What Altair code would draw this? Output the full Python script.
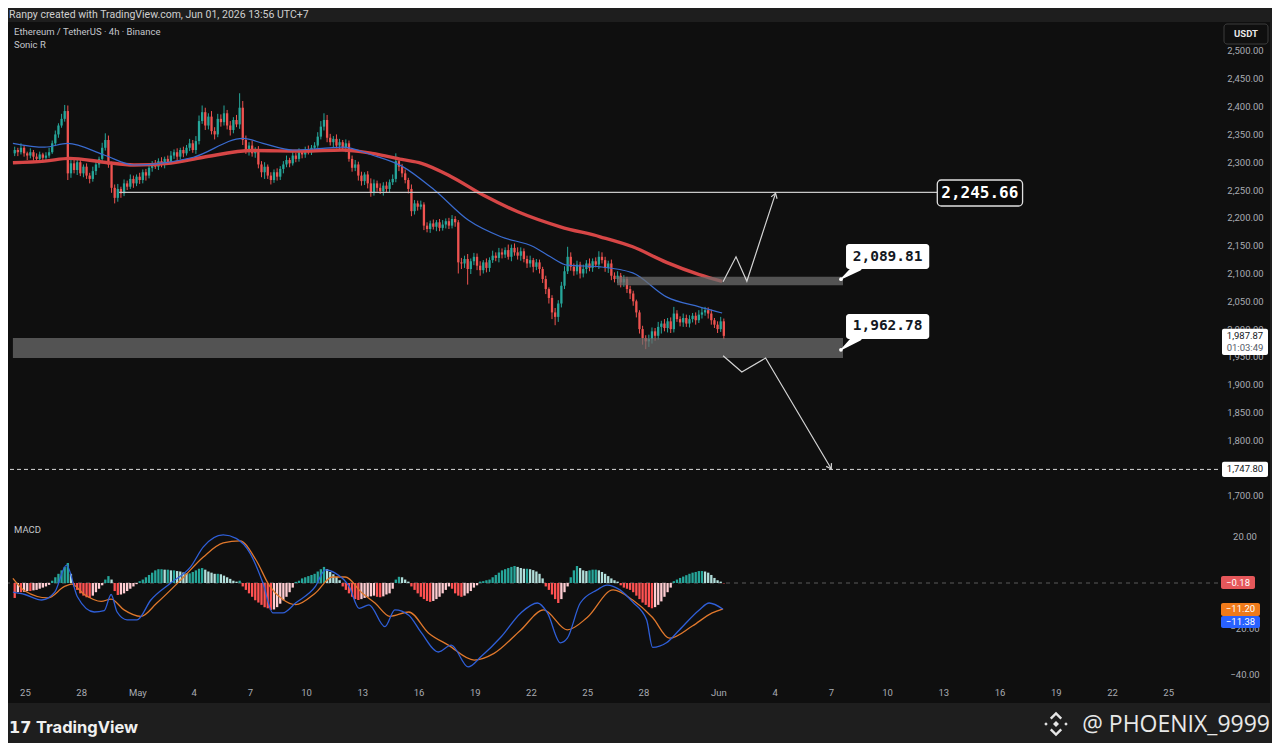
import json
import altair as alt
import pandas as pd

# ---------------- values ----------------
first_open = 2316
closes = [
    2322, 2318, 2326, 2316, 2312, 2318, 2310, 2306, 2314, 2308, 2312, 2318,
    2334, 2350, 2366, 2378, 2392,
    2280, 2298,
    2286, 2300, 2280, 2292, 2276, 2270, 2284, 2296, 2306, 2326, 2340,
    2296, 2254, 2236,
    2252, 2244, 2262, 2256, 2270, 2262, 2274, 2268, 2282,
    2276, 2290, 2298, 2292, 2302, 2296, 2306, 2300, 2312, 2318, 2310, 2322, 2316, 2326, 2334, 2322, 2338,
    2374, 2390,
    2366, 2382, 2356, 2350, 2378, 2372, 2388, 2366, 2358, 2376, 2368, 2398,
    2340, 2322, 2330, 2316, 2322,
    2296, 2282, 2292, 2276, 2268, 2282, 2274, 2288,
    2296, 2304, 2298, 2312, 2306, 2318, 2314, 2322, 2318, 2326,
    2330, 2346, 2364, 2376,
    2344, 2336, 2342, 2330, 2336, 2326, 2334,
    2306, 2290, 2296, 2276, 2266, 2278, 2262,
    2246, 2262, 2254, 2248, 2258, 2252, 2264, 2270, 2302, 2292, 2280,
    2268, 2252, 2212, 2226, 2220,
    2224, 2186, 2180, 2190,
    2184, 2192, 2182, 2188, 2194, 2186, 2198, 2192,
    2120,
    2118, 2126, 2108, 2122, 2130, 2114, 2106, 2120, 2110, 2124, 2132, 2128, 2138, 2134, 2142, 2130,
    2146, 2138, 2132, 2140, 2126, 2118, 2124, 2112, 2120,
    2108, 2090, 2072, 2056,
    2030, 2022,
    2046, 2078, 2104, 2130,
    2112, 2104, 2116, 2100, 2108, 2118, 2110, 2122, 2116, 2130,
    2124, 2110, 2118, 2096, 2090,
    2096, 2084, 2090, 2072, 2064, 2050,
    2030, 2000, 1984, 1978,
    1982, 1996, 1988, 2004,
    2010, 2002, 2014, 2000, 2028, 2018, 2012, 2020, 2010, 2018, 2024, 2016, 2026, 2030, 2034, 2028, 2016, 2008,
    2000, 2014, 1987.87,
]
upper_wick = [
    6, 4, 8, 5, 3, 7, 4, 6, 5, 3, 6, 8,
    5, 7, 4, 9, 11, 10, 6, 8, 5, 7, 4, 6,
    5, 8, 6, 4, 9, 12, 8, 5, 6, 9, 4, 7,
    5, 8, 6, 4, 7, 5, 6, 8, 4, 6, 5, 7,
    4, 6, 8, 5, 7, 4, 6, 5, 8, 6, 9, 10,
    12, 8, 6, 10, 7, 9, 8, 14, 6, 8, 5, 9,
    26, 12, 8, 6, 9, 5, 7, 6, 8, 4, 6, 5,
    7, 5, 6, 8, 4, 6, 5, 7, 4, 6, 8, 5,
    6, 8, 10, 12, 9, 7, 5, 8, 6, 4, 7, 5,
    6, 8, 5, 7, 4, 6, 9, 7, 5, 8, 6, 7,
    5, 8, 14, 6, 5, 7, 4, 8, 6, 5, 7, 4,
    6, 5, 7, 4, 6, 8, 5, 6, 7, 5, 4, 8,
    6, 9, 5, 7, 6, 8, 4, 7, 5, 9, 6, 8,
    7, 5, 10, 6, 8, 9, 7, 5, 6, 8, 4, 6,
    5, 4, 6, 3, 5, 8, 6, 7, 9, 18, 8, 6,
    7, 5, 8, 6, 9, 5, 7, 10, 8, 6, 5, 7,
    6, 8, 5, 7, 4, 6, 5, 3, 4, 6, 5, 8,
    7, 6, 9, 5, 8, 6, 7, 12, 6, 5, 8, 6,
    7, 5, 6, 8, 9, 6, 5, 7, 4, 6, 8, 5,
]
lower_wick = [
    5, 7, 4, 6, 8, 5, 7, 4, 6, 8, 5, 4,
    3, 5, 6, 4, 5, 12, 8, 6, 9, 5, 7, 6,
    8, 5, 7, 6, 4, 5, 6, 9, 10, 7, 8, 5,
    6, 4, 8, 5, 7, 6, 9, 5, 7, 4, 6, 5,
    7, 5, 4, 6, 8, 5, 7, 4, 6, 5, 7, 6,
    5, 8, 7, 6, 9, 5, 8, 6, 7, 10, 6, 5,
    8, 9, 7, 10, 6, 8, 7, 9, 12, 6, 8, 5,
    7, 6, 8, 5, 7, 4, 6, 5, 7, 6, 4, 5,
    6, 4, 5, 7, 8, 6, 9, 5, 7, 6, 8, 5,
    7, 6, 9, 8, 7, 9, 8, 6, 7, 5, 8, 6,
    7, 5, 6, 8, 7, 6, 8, 9, 6, 7, 5, 8,
    6, 7, 5, 8, 6, 5, 7, 6, 5, 8, 20, 10,
    8, 28, 9, 7, 8, 10, 6, 8, 7, 5, 6, 8,
    7, 6, 5, 8, 6, 7, 9, 6, 8, 7, 10, 6,
    8, 7, 9, 10, 12, 15, 9, 7, 6, 5, 7, 8,
    6, 9, 7, 8, 6, 7, 5, 8, 6, 7, 9, 8,
    6, 7, 9, 8, 7, 10, 8, 9, 8, 12, 14, 10,
    8, 9, 7, 12, 6, 8, 7, 6, 5, 7, 8, 6,
    7, 6, 8, 5, 7, 6, 9, 8, 6, 7, 5, 6,
]
macd_hist = [
    -6.5, -4, -4, -3.8, -3.5, -3.5, -3.2, -3, -2.5, -2, -1.5, -0.8,
    1, 2.5, 4, 5.5, 7, 8.7, 4,
    -1.5, -3, -4.5, -5.5, -6.2, -6.5, -5.5, -4, -2.5, -1,
    1.5, 3, 1.5,
    -3.5, -5.2, -5, -4.5, -3.5, -2.5, -1.5, -0.5,
    0.8, 1.5, 2.5, 3.5, 4.5, 5.5, 6, 6, 5.8, 5.8, 5.5, 5.5, 5.2, 5, 4.6, 4.2,
    4.2, 4.8, 5.5, 6.2, 6.5, 5.8, 5, 4.5, 4, 4, 3.8, 3.2, 2.5, 1.8, 1, 0.6,
    1,
    -1.5, -3, -4.5, -6, -7.5, -8.5, -9.5, -10.5, -11, -11.7, -11.5, -10.5, -9, -7.5, -6, -4, -2,
    0.5, 1, 2, 2.5, 3, 3.5, 4, 5, 6, 7, 6, 4.8, 3.8, 2.6, 1.2,
    -1.5, -3, -4.5, -6, -7, -7.4, -7, -6.5, -6, -5.8, -5.5, -6, -6.2, -5.8, -5, -4.5,
    -2.5,
    1.5, 2.7, 2.5, 1.5, 0.6,
    -1.5, -3, -4.5, -6, -7, -7.8, -8.2, -7.8, -7, -6, -4.5, -3, -1.5,
    -2.5, -4.5, -5.5, -6, -5.5, -4.5, -3.5, -2, -1,
    0.6, 0.8, 1.2, 1.5, 2.5, 3.5, 4.5, 5.5, 6, 6.5, 7, 7.4, 7, 6.5, 6.2, 6.2, 6, 5.6, 5, 4, 2,
    -1.5, -3, -5, -7, -8.7, -7, -4, -1.5,
    2.5, 5.5, 7.4, 6.5, 5.5, 5.2, 5.5, 5.8, 5.8, 5.5, 4.8, 4, 3, 2, 1.2, 0.6,
    -1, -2, -2.5, -3, -4, -5.5, -7, -8.5, -9.5, -10.5, -11, -10.5, -9.5, -8, -6, -4, -2,
    0.8, 1.5, 2.2, 2.8, 3.4, 4, 4.5, 4.8, 5.2, 5.2, 5, 4.5, 3.5, 2.2, 1.2, 0.6,
    -0.18,
]

# moving averages (day since Apr 25 -> price)
red_ma_day = [-0.64, 1.06, 2.38, 4.23, 5.82, 7.67, 9.52, 12.17, 14.81, 16.93, 18.52, 20.11,
              21.16, 22.75, 24.50, 26.30, 28.57, 30.69, 32.43, 34.23, 35.98, 37.20]
red_ma = [2299, 2302, 2307, 2300, 2295, 2298, 2309, 2321, 2320, 2322, 2316, 2305,
          2298, 2274, 2240, 2211, 2184, 2166, 2148, 2120, 2098, 2086]
blue_ma_day = [-0.64, 1.06, 2.28, 4.23, 5.82, 7.41, 8.99, 11.64, 12.70, 14.29, 15.87, 16.93,
               18.52, 20.11, 21.85, 23.65, 25.40, 27.14, 28.04, 28.94, 30.69, 32.43, 34.23,
               35.98, 37.20]
blue_ma = [2334, 2327, 2334, 2313, 2295, 2299, 2309, 2343, 2334, 2322, 2325, 2327,
           2313, 2293, 2250, 2196, 2166, 2148, 2130, 2115, 2112, 2101, 2058, 2040, 2029]

# MACD lines (day -> value)
macd_day = [-0.64, 0.0, 0.90, 1.59, 2.22, 2.80, 3.70, 4.23, 4.60, 4.92, 5.45, 5.98, 6.72, 7.78,
            8.84, 9.52, 10.58, 11.27, 12.01, 12.70, 13.23, 13.76, 14.44, 15.50, 16.03, 16.56,
            17.30, 17.83, 18.36, 19.21, 19.74, 20.48, 21.16, 22.06, 22.75, 23.65, 24.34, 25.40,
            26.46, 27.35, 27.88, 28.57, 28.94, 29.63, 30.53, 31.06, 31.75, 32.43, 33.17, 33.49,
            34.23, 34.92, 35.98, 36.51, 37.25]
macd_line = [-4, -5, -7.4, -4, 7.8, -6, -12.6, -12, -5, -12.6, -16, -16, -7.4, 0,
             7, 15.7, 20.9, 19.4, 13, 0, -13, -13, -8.7, -1.5, 5.7, 4.3,
             -1.5, -11, -9.5, -19, -11.7, -14, -21.7, -30, -27, -36.5, -32, -23.5,
             -13, -8.7, -13, -26, -24, -8.7, -3, -0.9, -3, -8.3, -16, -28,
             -26, -20.4, -11.7, -8.7, -11.38]
signal_day = [-0.64, 0.0, 1.22, 2.12, 2.49, 3.17, 4.07, 4.60, 5.29, 6.19, 7.04, 8.47, 9.52,
              10.58, 11.48, 12.33, 13.07, 13.76, 14.44, 15.50, 16.40, 17.09, 17.99, 18.68,
              19.47, 20.48, 21.53, 22.59, 23.97, 25.03, 26.46, 27.67, 28.94, 30.00, 31.38,
              32.43, 33.49, 34.39, 35.61, 36.67, 37.25]
signal_line = [2, -3.5, -6.5, -1.5, -0.5, -5, -8, -7, -11.7, -14.5, -8.7, 2.6, 11.3,
               17.4, 18.3, 10, -1.5, -7.2, -9.4, -4.3, 2.6, 2.6, -4.3, -8.7,
               -14.5, -12.6, -21.7, -27, -33.5, -30.6, -20.4, -11.7, -20.4, -15, -3,
               -7.4, -15, -24, -18.7, -13, -11.2]

date_tick_day = [0, 3, 6, 9, 12, 15, 18, 21, 24, 27, 30, 33, 37, 40, 43, 46, 49, 52, 55, 58, 61]
date_tick_label = ["25", "28", "May", "4", "7", "10", "13", "16", "19", "22", "25", "28",
                   "Jun", "4", "7", "10", "13", "16", "19", "22", "25"]
price_ticks = list(range(1700, 2550, 50))
macd_ticks = [20, -20, -40]

level_top = 2245.66
zone_mid = 2089.81
zone_low = 1962.78
target_low = 1747.80
last_price = 1987.87
countdown = "01:03:49"
hist_last, signal_last, macd_last = -0.18, -11.20, -11.38

zone_day_start = [31.59, -0.64]
zone_day_end = [43.65, 43.65]
zone_bottom = [2079, 1948]
zone_top = [2094, 1984]
up_path_day = [37.25, 37.94, 38.52, 40.05]
up_path_price = [2085, 2130, 2086, 2244]
down_path_day = [37.25, 38.25, 39.52, 43.02]
down_path_price = [1952, 1923, 1948, 1749]

# ---------------- styling ----------------
BG = "#0f0f0f"
PANEL = "#1e1e1e"
UP = "#26a69a"
DOWN = "#ef5350"
AXIS_TXT = "#a9acb3"
FONT = "Roboto"
W, H = 1210, 658

def fmt(v):
    return f"{v:,.2f}".replace("-", "\u2212")

# ---------------- tables ----------------
n = min(len(closes), len(upper_wick), len(lower_wick))
last_day = 37.29
days = [last_day - (n - 1 - i) / 6 for i in range(n)]
opens = [first_open] + closes[:n - 1]
candles = pd.DataFrame({
    "day": days,
    "open": opens,
    "close": closes[:n],
    "high": [max(o, c) + u for o, c, u in zip(opens, closes, upper_wick)],
    "low": [min(o, c) - l for o, c, l in zip(opens, closes, lower_wick)],
})
candles["col"] = [UP if c >= o else DOWN for o, c in zip(candles["open"], candles["close"])]

nh = len(macd_hist)
hcol = []
for i, h in enumerate(macd_hist):
    p = macd_hist[i - 1] if i > 0 else h
    if h >= 0:
        hcol.append("#26a69a" if h >= p else "#b2dfdb")
    else:
        hcol.append("#ffcdd2" if h > p else "#ff5252")
hist = pd.DataFrame({"day": [last_day - (nh - 1 - i) / 6 for i in range(nh)],
                     "h": macd_hist, "col": hcol})

red = pd.DataFrame({"day": red_ma_day, "v": red_ma})
blue = pd.DataFrame({"day": blue_ma_day, "v": blue_ma})
macd_df = pd.DataFrame({"day": macd_day, "v": macd_line})
sig_df = pd.DataFrame({"day": signal_day, "v": signal_line})
zones = pd.DataFrame({"d1": zone_day_start, "d2": zone_day_end, "p1": zone_bottom, "p2": zone_top})
up_path = pd.DataFrame({"day": up_path_day, "p": up_path_price, "o": range(len(up_path_day))})
down_path = pd.DataFrame({"day": down_path_day, "p": down_path_price, "o": range(len(down_path_day))})
pointers = pd.DataFrame({
    "day": [43.54, 44.44, 43.54, 44.44],
    "p": [zone_mid, 2112, zone_low, 1986],
    "w": [0, 9, 0, 9],
    "g": ["a", "a", "b", "b"],
})
one = pd.DataFrame({"k": [0]})

# ---------------- scales / axes ----------------
XS = alt.Scale(domain=[-0.635, 63.39], nice=False, zero=False)
XA = alt.Axis(title=None, values=date_tick_day,
              labelExpr=f"{json.dumps(date_tick_label)}[indexof({json.dumps(date_tick_day)}, datum.value)]",
              labelColor=AXIS_TXT, labelFont=FONT, labelFontSize=9.5, labelPadding=7,
              ticks=False, tickSize=0, domain=False, grid=False, labelOverlap=False, labelFlush=False)
PS = alt.Scale(domain=[1369.2, 2552.1], nice=False, zero=False)
PA = alt.Axis(title=None, orient="right", values=price_ticks, format=",.2f",
              labelColor=AXIS_TXT, labelFont=FONT, labelFontSize=9.5, labelPadding=27,
              labelAlign="center", ticks=False, tickSize=0, domain=False, grid=False,
              labelOverlap=False, labelFlush=False)
MS = alt.Scale(domain=[-42.17, 243.9], nice=False, zero=False)

def X(f):
    return alt.X(f, type="quantitative", scale=XS, axis=XA)

def XD(v):
    return alt.XDatum(v, type="quantitative", scale=XS, axis=XA)

def PY(f):
    return alt.Y(f, type="quantitative", scale=PS, axis=PA)

def PYD(v):
    return alt.YDatum(v, type="quantitative", scale=PS, axis=PA)

def MY(f):
    return alt.Y(f, type="quantitative", scale=MS, axis=None)

def MYD(v):
    return alt.YDatum(v, type="quantitative", scale=MS, axis=None)

# ---------------- decoration (header / footer) ----------------
def txt(s, x, y, size=10, color="#c8c8c8", align="left", weight="normal", font=FONT):
    return alt.Chart(one).mark_text(text=s, align=align, baseline="middle", fontSize=size,
                                    color=color, fontWeight=weight, font=font).encode(
        x=alt.value(x), y=alt.value(y))

header_band = alt.Chart(one).mark_rect(color=PANEL).encode(
    x=alt.value(0), x2=alt.value(1264), y=alt.value(-14), y2=alt.value(0))
footer_band = alt.Chart(one).mark_rect(color=PANEL).encode(
    x=alt.value(0), x2=alt.value(1264), y=alt.value(681), y2=alt.value(721))
right_band = alt.Chart(one).mark_rect(color=PANEL).encode(
    x=alt.value(1262), x2=alt.value(1264), y=alt.value(-14), y2=alt.value(721))
usdt_box = alt.Chart(one).mark_rect(fill=BG, stroke="#3c3c3c", cornerRadius=3).encode(
    x=alt.value(1216), x2=alt.value(1260), y=alt.value(2), y2=alt.value(22))

binance_parts = [
    alt.Chart(one).mark_point(shape="diamond", filled=True, color="#e6e6e6", size=36, opacity=1).encode(
        x=alt.value(1048), y=alt.value(702)),
    alt.Chart(one).mark_point(shape="diamond", filled=True, color="#e6e6e6", size=12, opacity=1).encode(
        x=alt.value(1038), y=alt.value(702)),
    alt.Chart(one).mark_point(shape="diamond", filled=True, color="#e6e6e6", size=12, opacity=1).encode(
        x=alt.value(1058), y=alt.value(702)),
    alt.Chart(one).mark_point(shape="M -1 0.5 L 0 -0.5 L 1 0.5", filled=False, color="#e6e6e6",
                              strokeWidth=2.4, size=110, opacity=1).encode(x=alt.value(1048), y=alt.value(694)),
    alt.Chart(one).mark_point(shape="M -1 -0.5 L 0 0.5 L 1 -0.5", filled=False, color="#e6e6e6",
                              strokeWidth=2.4, size=110, opacity=1).encode(x=alt.value(1048), y=alt.value(710)),
]

decor = alt.layer(
    header_band, footer_band, right_band, usdt_box,
    txt("Ranpy created with TradingView.com, Jun 01, 2026 13:56 UTC+7", 1, -7, size=10.5, color="#d0d0d0"),
    txt("Ethereum / TetherUS \u00b7 4h \u00b7 Binance", 6, 10, size=9.5, color="#c4c6cc"),
    txt("Sonic R", 6, 23, size=9.5, color="#c4c6cc"),
    txt("MACD", 6, 508, size=9.5, color="#c4c6cc"),
    txt("USDT", 1238, 12, size=9.5, color="#e8e8e8", align="center", weight="bold"),
    txt("17", 1, 706, size=16, color="#f0f0f0", weight="bold", font="DejaVu Sans"),
    txt("TradingView", 28, 706, size=16.5, color="#f0f0f0", weight="bold", font="Inter"),
    *binance_parts,
    txt("@ PHOENIX_9999", 1262, 703, size=23, color="#e8e8e8", align="right", font="Open Sans"),
)

# ---------------- price pane ----------------
wicks = alt.Chart(candles).mark_rule(strokeWidth=1).encode(
    x=X("day"), y=PY("low"), y2=alt.Y2("high"), color=alt.Color("col:N", scale=None))
bodies = alt.Chart(candles).mark_bar(size=2.3).encode(
    x=X("day"), y=PY("open"), y2=alt.Y2("close"), color=alt.Color("col:N", scale=None))
red_line = alt.Chart(red).mark_line(color="#d64646", strokeWidth=3.4, interpolate="monotone").encode(
    x=X("day"), y=PY("v"))
blue_line = alt.Chart(blue).mark_line(color="#3a6cd0", strokeWidth=1.2, interpolate="monotone").encode(
    x=X("day"), y=PY("v"))
zone_rects = alt.Chart(zones).mark_rect(color="#6e6e6e", opacity=0.72).encode(
    x=X("d1"), x2=alt.X2("d2"), y=PY("p1"), y2=alt.Y2("p2"))
top_level = alt.Chart(one).mark_rule(color="#c8c8c8", strokeWidth=1.3).encode(
    x=XD(5.03), x2=alt.datum(48.68), y=PYD(level_top))
target_line = alt.Chart(one).mark_rule(color="#d8d8d8", strokeWidth=1, strokeDash=[4, 3]).encode(
    y=PYD(target_low))
up_arrow = alt.Chart(up_path).mark_line(color="#d4d4d4", strokeWidth=1.2).encode(
    x=X("day"), y=PY("p"), order="o:Q")
down_arrow = alt.Chart(down_path).mark_line(color="#d4d4d4", strokeWidth=1.2).encode(
    x=X("day"), y=PY("p"), order="o:Q")
CHEV = "M -0.8 1.2 L 0 0 L 0.8 1.2"
up_head = alt.Chart(one).mark_point(shape=CHEV, filled=False, color="#d4d4d4", strokeWidth=1.2,
                                    size=60, angle=18, opacity=1).encode(x=XD(up_path_day[-1]), y=PYD(up_path_price[-1]))
down_head = alt.Chart(one).mark_point(shape=CHEV, filled=False, color="#d4d4d4", strokeWidth=1.2,
                                      size=60, angle=149, opacity=1).encode(x=XD(down_path_day[-1]), y=PYD(down_path_price[-1]))

top_box = alt.Chart(one).mark_rect(fill="#0a0a0a", stroke="#e0e0e0", strokeWidth=1.3, cornerRadius=4).encode(
    x=XD(48.68), x2=alt.datum(53.23), y=PYD(2268.1), y2=alt.datum(2221.3))
top_text = alt.Chart(one).mark_text(text=fmt(level_top), fontSize=16, fontWeight="bold",
                                    font="DejaVu Sans Mono", color="#ffffff", baseline="middle").encode(
    x=XD(50.95), y=PYD(2244.0))
pointer = alt.Chart(pointers).mark_trail(color="#ffffff").encode(
    x=X("day"), y=PY("p"), size=alt.Size("w:Q", scale=None), detail="g:N")
tip_dots = alt.Chart(pd.DataFrame({"p": [zone_mid, zone_low]})).mark_point(
    filled=True, color="#ffffff", size=14, opacity=1).encode(x=XD(43.54), y=PY("p"))
mid_box = alt.Chart(one).mark_rect(fill="#ffffff", cornerRadius=3).encode(
    x=XD(43.81), x2=alt.datum(48.25), y=PYD(2153.0), y2=alt.datum(2108.1))
mid_text = alt.Chart(one).mark_text(text=fmt(zone_mid), fontSize=14.5, fontWeight="bold",
                                    font="DejaVu Sans Mono", color="#131722", baseline="middle").encode(
    x=XD(46.03), y=PYD(2130.5))
low_box = alt.Chart(one).mark_rect(fill="#ffffff", cornerRadius=3).encode(
    x=XD(43.81), x2=alt.datum(48.25), y=PYD(2027.2), y2=alt.datum(1982.2))
low_text = alt.Chart(one).mark_text(text=fmt(zone_low), fontSize=14.5, fontWeight="bold",
                                    font="DejaVu Sans Mono", color="#131722", baseline="middle").encode(
    x=XD(46.03), y=PYD(2004.7))

last_box = alt.Chart(one).mark_rect(fill="#ffffff", cornerRadius=2).encode(
    x=alt.value(1214), x2=alt.value(1260), y=PYD(2000.5), y2=alt.datum(1953.5))
last_text = alt.Chart(one).mark_text(text=fmt(last_price), fontSize=9.5, font=FONT,
                                     color="#131722", baseline="middle").encode(
    x=alt.value(1237), y=PYD(1988.5))
count_text = alt.Chart(one).mark_text(text=countdown, fontSize=9.5, font=FONT,
                                      color="#555a66", baseline="middle").encode(
    x=alt.value(1237), y=PYD(1966.0))
target_box = alt.Chart(one).mark_rect(fill="#ffffff", cornerRadius=2).encode(
    x=alt.value(1214), x2=alt.value(1260), y=PYD(1761.5), y2=alt.datum(1734.0))
target_text = alt.Chart(one).mark_text(text=fmt(target_low), fontSize=9.5, font=FONT,
                                       color="#131722", baseline="middle").encode(
    x=alt.value(1237), y=PYD(target_low))

price = alt.layer(
    wicks, bodies, red_line, blue_line, zone_rects, top_level, target_line,
    up_arrow, down_arrow, up_head, down_head,
    top_box, top_text, pointer, tip_dots, mid_box, mid_text, low_box, low_text,
    last_box, last_text, count_text, target_box, target_text,
)

# ---------------- MACD pane ----------------
zero_line = alt.Chart(one).mark_rule(color="#5a5a5a", strokeWidth=1, strokeDash=[4, 4]).encode(y=MYD(0))
hist_bars = alt.Chart(hist).mark_bar(size=2.3).encode(
    x=X("day"), y=MY("h"), y2=alt.datum(0), color=alt.Color("col:N", scale=None))
sig_l = alt.Chart(sig_df).mark_line(color="#e0782c", strokeWidth=1.3, interpolate="monotone").encode(
    x=X("day"), y=MY("v"))
macd_l = alt.Chart(macd_df).mark_line(color="#2f5fd8", strokeWidth=1.3, interpolate="monotone").encode(
    x=X("day"), y=MY("v"))
macd_axis_labels = alt.Chart(pd.DataFrame({"v": macd_ticks, "t": [fmt(v) for v in macd_ticks]})).mark_text(
    fontSize=9.5, font=FONT, color=AXIS_TXT, baseline="middle").encode(
    x=alt.value(1237), y=MY("v"), text="t:N")

def value_tag(val_txt, y_top, y_bot, y_txt, color, x2):
    box = alt.Chart(one).mark_rect(fill=color, cornerRadius=2).encode(
        x=alt.value(1213), x2=alt.value(x2), y=MYD(y_top), y2=alt.datum(y_bot))
    t = alt.Chart(one).mark_text(text=val_txt, fontSize=9.5, font=FONT, color="#ffffff",
                                 baseline="middle").encode(
        x=alt.value((1213 + x2) / 2), y=MYD(y_txt))
    return [box, t]

macd = alt.layer(
    zero_line, hist_bars, sig_l, macd_l, macd_axis_labels,
    *value_tag(fmt(hist_last), 3.0, -2.6, -0.18, "#e5575a", 1247),
    *value_tag(fmt(signal_last), -8.7, -14.3, -11.5, "#f07a1a", 1252),
    *value_tag(fmt(macd_last), -14.3, -19.6, -17.0, "#2962ff", 1252),
)

chart = alt.layer(decor, price, macd).resolve_scale(y="independent").properties(
    width=W, height=H,
    padding={"left": 0, "top": 14, "right": 54, "bottom": 63},
    autosize=alt.AutoSizeParams(type="none"),
    background=BG,
).configure_view(stroke=None)

chart.save("out.html", embed_options={"renderer": "svg", "actions": False})
